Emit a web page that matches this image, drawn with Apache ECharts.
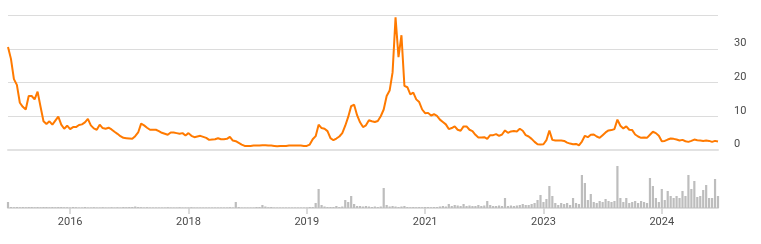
<!DOCTYPE html>
<html>
<head>
<meta charset="utf-8">
<script src="https://cdn.jsdelivr.net/npm/echarts@6/dist/echarts.min.js"></script>
<style>
html,body{margin:0;padding:0;background:#fff;}
#chart{width:761px;height:244px;}
</style>
</head>
<body>
<div id="chart"></div>
<script>
// Tick labels on the x axis and the data index where each one sits
const tickYears = ['2016', '2018', '2019', '2021', '2023', '2024'];
const tickIndex = [21, 61, 101, 141, 181, 221];

// Price series (one value per observation)
const priceValues = [
  30.5, 27, 21, 19.3, 14, 12.8, 12, 16, 16, 15,
  17.3, 12.8, 8.5, 7.7, 8.5, 7.5, 8.7, 9.9, 7.5, 6.3,
  7.2, 6.2, 6.8, 6.8, 7.4, 7.6, 8.2, 9.2, 7.3, 6.4,
  6, 7.5, 6.5, 6.3, 6.6, 6.1, 5.4, 4.8, 4.1, 3.6,
  3.5, 3.4, 3.3, 4.1, 5.2, 7.8, 7.3, 6.6, 6, 6,
  6, 5.6, 5.1, 4.8, 4.5, 5.2, 5.2, 5, 4.8, 5,
  4.3, 5, 4.2, 3.8, 4, 4.2, 3.9, 3.6, 3, 3.1,
  3.2, 3.5, 3.2, 3.2, 3.3, 3.9, 2.8, 2.6, 2.1, 1.6,
  1.2, 1.2, 1.2, 1.3, 1.3, 1.3, 1.4, 1.4, 1.3, 1.3,
  1.2, 1.1, 1.2, 1.2, 1.2, 1.3, 1.3, 1.3, 1.3, 1.3,
  1.2, 1.2, 1.6, 3.2, 4.1, 7.5, 6.5, 6.3, 5.6, 3.5,
  2.9, 3.4, 4, 5, 7.2, 9.8, 13, 13.4, 10.3, 8.2,
  6.8, 7.3, 8.8, 8.5, 8.3, 8.6, 10, 12, 16, 17.6,
  23, 39.3, 27.5, 34, 19, 18.6, 16.5, 17, 15, 14.2,
  12, 10.9, 11, 10.2, 10.6, 10.1, 9, 8.3, 7.6, 6.2,
  6.5, 7, 6, 5.7, 7, 7, 6, 5.6, 4.5, 3.7,
  3.7, 3.8, 3.3, 4.4, 4.4, 4.7, 4.2, 4.6, 5.8, 5.1,
  5.5, 5.6, 5.5, 6.3, 5.7, 4.4, 4, 3.3, 2.4, 1.7,
  1.6, 1.7, 2.9, 5.8, 3, 2.8, 2.8, 2.8, 2.7, 2.2,
  1.9, 1.7, 1.8, 1.4, 2.5, 4.2, 3.8, 4.5, 4.6, 4,
  3.6, 4.4, 5.2, 5.8, 5.9, 6.2, 9, 7.2, 6.4, 7,
  6, 5.9, 4.6, 4, 3.6, 3.7, 3.6, 4.5, 5.4, 5,
  4.2, 2.6, 2.7, 3.1, 3.4, 3.3, 3.1, 2.8, 3, 2.6,
  2.4, 2.7, 3.1, 2.9, 2.8, 2.7, 2.8, 2.7, 2.4, 2.7, 2.5
];

// Volume series (relative units)
const volumeValues = [
  6, 1, 0.8, 1, 0.8, 1, 0.8, 1, 1, 0.8,
  1, 0.8, 1, 1, 0.8, 1, 0.8, 1, 1, 0.8,
  0.8, 0.5, 1, 0.8, 0.5, 0.5, 1, 0.5, 0.5, 0.8,
  0.5, 0.5, 0.8, 0.5, 0.5, 0.8, 0.5, 0.8, 0.5, 1,
  0.8, 1, 1, 1.5, 1, 0.8, 0.5, 0.8, 0.5, 0.5,
  0.5, 0.5, 0.5, 0.5, 0.8, 0.5, 0.5, 0.5, 0.8, 0.5,
  0.5, 0.5, 0.8, 0.5, 0.5, 0.5, 0.5, 0.5, 0.5, 0.5,
  0.5, 0.5, 0.5, 0.5, 0.5, 0.8, 0.5, 6, 1, 0.5,
  0.5, 0.5, 0.5, 0.5, 1, 1, 3, 1.5, 0.8, 1,
  0.5, 0.5, 0.5, 0.5, 0.5, 0.5, 0.5, 0.5, 0.5, 0.5,
  0.5, 0.5, 1, 1, 5, 19, 3, 1.5, 1, 1,
  1, 2, 1, 1.5, 8, 6, 12, 4, 2, 2,
  1.5, 2, 1.5, 1, 1.5, 1, 1.5, 20, 3, 1.5,
  2, 1.5, 1, 1.5, 2, 1, 0.8, 1, 0.8, 1,
  0.8, 1, 1, 0.8, 1, 1, 1.5, 2, 1.5, 4,
  2, 3, 2.5, 2, 4, 2, 2.5, 2, 2, 3,
  2, 2.5, 7, 3, 2, 2, 2.5, 2, 10, 2,
  2.5, 2, 2.5, 3, 4, 3, 3, 4, 5, 8,
  13, 6, 9, 22, 12, 5, 3, 5, 4, 5,
  3, 10, 5, 4, 33, 25, 8, 14, 6, 5,
  7, 6, 9, 7, 6, 7, 42, 10, 6, 10,
  5, 6, 7, 5, 7, 6, 5, 30, 22, 10,
  6, 19, 8, 17, 12, 10, 12, 10, 17, 12,
  33, 19, 27, 11, 12, 18, 23, 10, 10, 29, 12
];

// Y-axis ticks of the price panel
const priceTicks = [0, 10, 20, 30, 40];

const categories = priceValues.map((_, i) => String(i));

const chart = echarts.init(document.getElementById('chart'), null, {renderer: 'canvas'});
const showTick = (index) => tickIndex.indexOf(index) >= 0;

chart.setOption({
  animation: false,
  backgroundColor: '#fff',
  textStyle: {fontFamily: 'Roboto, Arial, sans-serif'},
  grid: [
    {left: 8, right: 43, top: 15, height: 135},
    {left: 8, right: 43, top: 163, height: 45}
  ],
  xAxis: [
    {
      type: 'category', gridIndex: 0, data: categories, boundaryGap: false,
      axisLine: {show: true, lineStyle: {color: '#e2e2e2', width: 2}},
      axisTick: {show: false}, axisLabel: {show: false}, splitLine: {show: false}
    },
    {
      type: 'category', gridIndex: 1, data: categories, boundaryGap: false,
      axisLine: {show: true, lineStyle: {color: '#dedede', width: 2}},
      axisTick: {show: true, interval: showTick, length: 6, lineStyle: {color: '#d0d0d0', width: 1.5}},
      axisLabel: {
        show: true, interval: showTick, color: '#4a4a4a', fontSize: 11, margin: 9,
        formatter: (v, idx) => { const k = tickIndex.indexOf(idx); return k >= 0 ? tickYears[k] : ''; }
      },
      splitLine: {show: false}
    }
  ],
  yAxis: [
    {
      type: 'value', gridIndex: 0, position: 'right',
      min: priceTicks[0], max: priceTicks[priceTicks.length - 1], interval: 10,
      axisLine: {show: false}, axisTick: {show: false},
      axisLabel: {
        color: '#4a4a4a', fontSize: 11, margin: 16, verticalAlign: 'bottom',
        formatter: (v) => (v === priceTicks[priceTicks.length - 1] ? '' : String(v))
      },
      splitLine: {lineStyle: {color: '#dcdcdc', width: 1}}
    },
    {
      type: 'value', gridIndex: 1, min: 0, max: 45,
      show: false, splitLine: {show: false}
    }
  ],
  series: [
    {
      type: 'line', xAxisIndex: 0, yAxisIndex: 0, data: priceValues,
      showSymbol: false, symbol: 'none',
      lineStyle: {color: '#ff7a00', width: 2},
      itemStyle: {color: '#ff7a00'}
    },
    {
      type: 'bar', xAxisIndex: 1, yAxisIndex: 1, data: volumeValues,
      barWidth: 2.2,
      itemStyle: {color: '#bdbdbd'}
    }
  ]
});
</script>
</body>
</html>
